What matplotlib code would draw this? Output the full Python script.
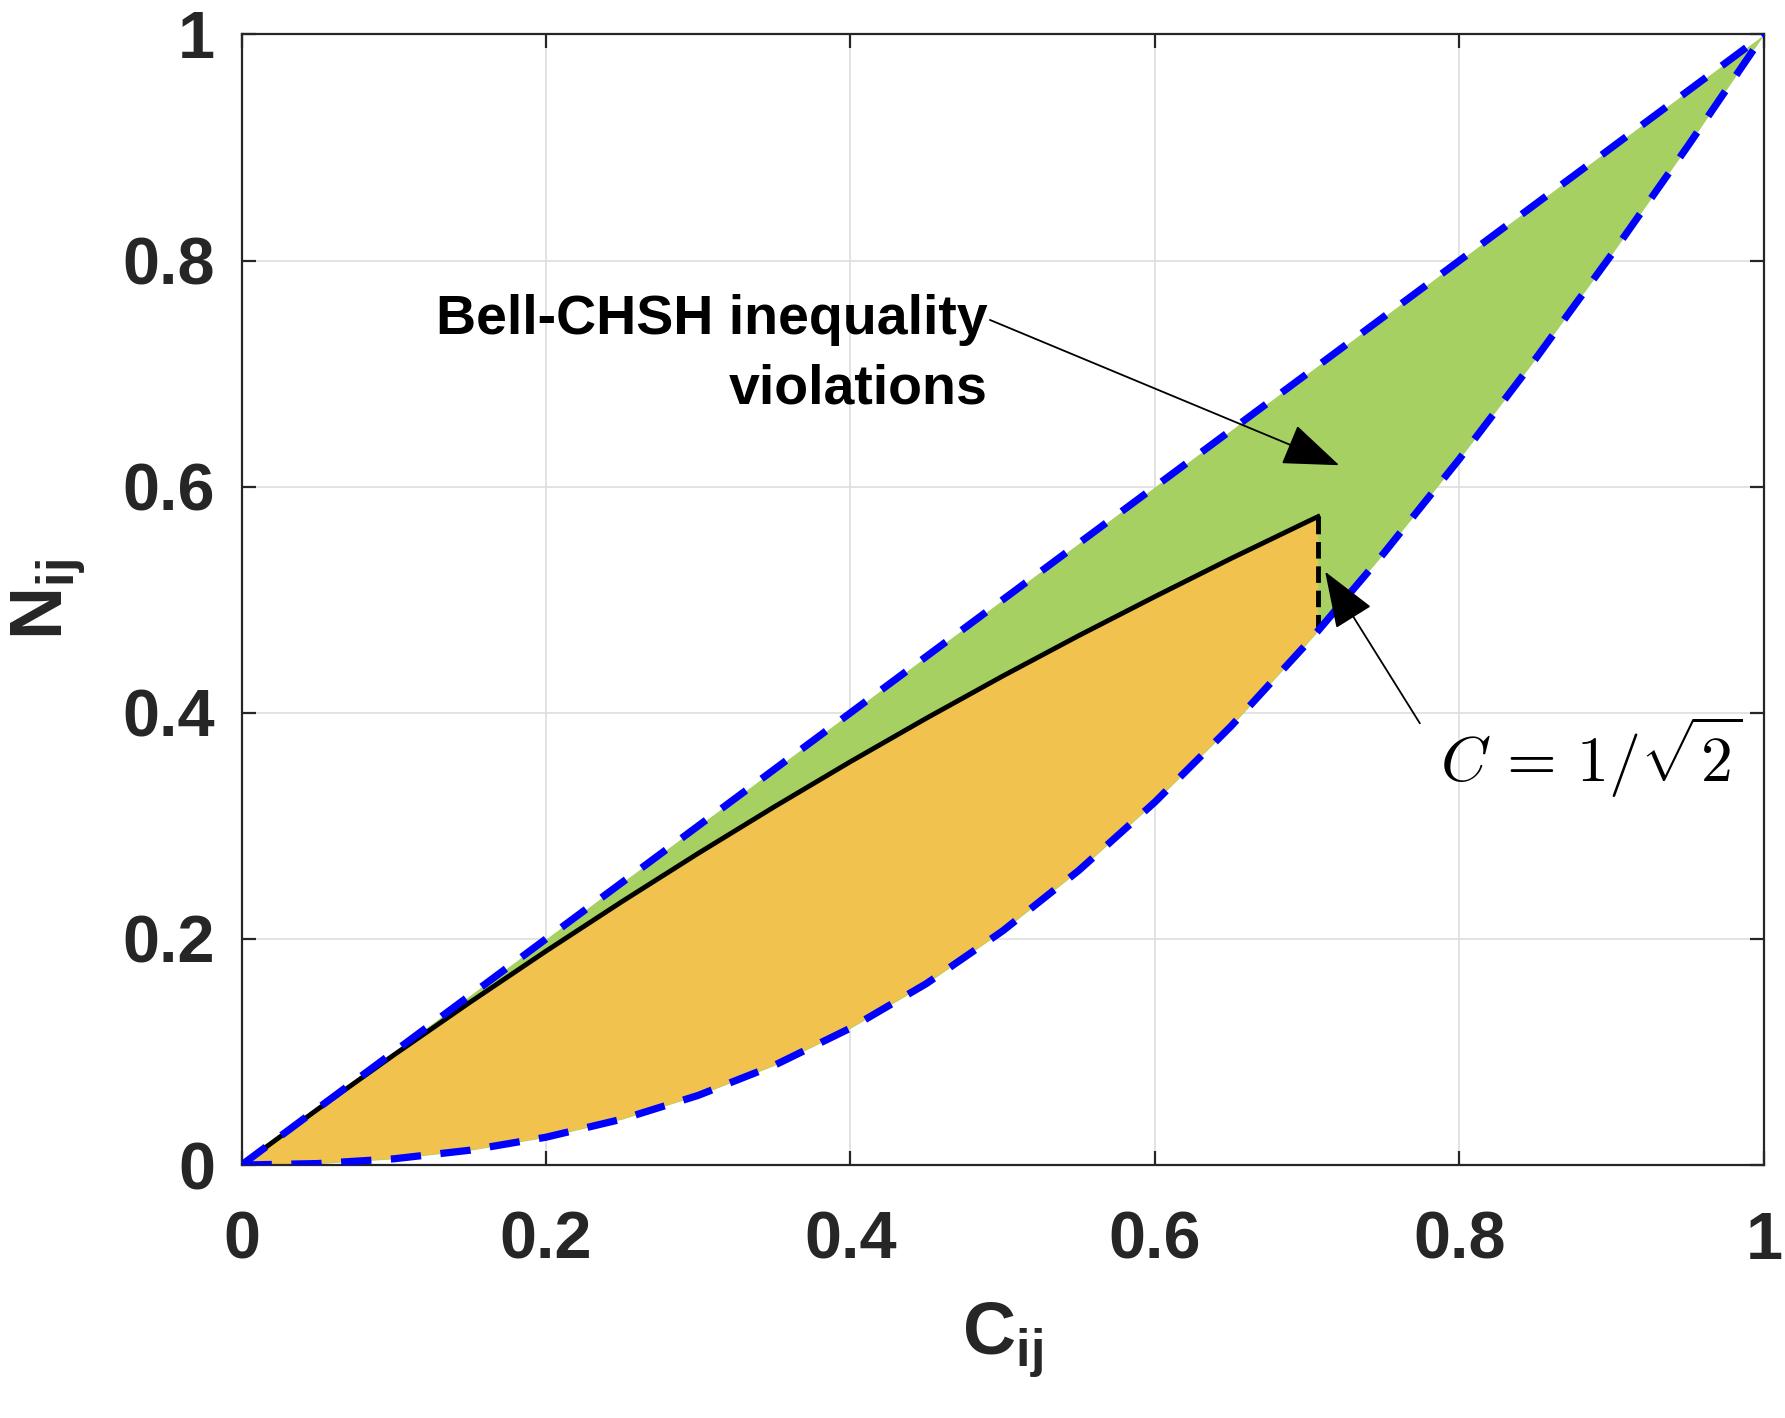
import numpy as np
import matplotlib
matplotlib.use("Agg")
import matplotlib.pyplot as plt

plt.rcParams['font.family'] = ['Liberation Sans', 'DejaVu Sans']
plt.rcParams['mathtext.fontset'] = 'custom'
plt.rcParams['mathtext.rm'] = 'Liberation Sans:bold'
plt.rcParams['mathtext.bf'] = 'Liberation Sans:bold'

# concurrence grid
c_vals = [0.0, 0.05, 0.1, 0.15, 0.2, 0.25, 0.3, 0.35, 0.4, 0.45, 0.5, 0.55, 0.6, 0.65, 0.7, 0.7071,
          0.75, 0.8, 0.85, 0.9, 0.95, 1.0]
# upper bound (blue dashed, top)
n_upper = [0.0, 0.05, 0.1, 0.15, 0.2, 0.25, 0.3, 0.35, 0.4, 0.45, 0.5, 0.55, 0.6, 0.65, 0.7, 0.7071,
           0.75, 0.8, 0.85, 0.9, 0.95, 1.0]
# lower bound (blue dashed, bottom)
n_lower = [0.0, 0.0013, 0.0055, 0.0131, 0.0246, 0.0406, 0.0616, 0.0882, 0.1211, 0.1606, 0.2071,
           0.2606, 0.3211, 0.3882, 0.4616, 0.4725, 0.5406, 0.6246, 0.7131, 0.8055, 0.9013, 1.0]
# black curve, stops at C = 1/sqrt(2)
c_black = [0.0, 0.05, 0.1, 0.15, 0.2, 0.25, 0.3, 0.35, 0.4, 0.45, 0.5, 0.55, 0.6, 0.65, 0.7, 0.7071]
n_black = [0.0, 0.0493, 0.0973, 0.1439, 0.1892, 0.2331, 0.2757, 0.3169, 0.3568, 0.3953, 0.4325,
           0.4683, 0.5028, 0.5365, 0.5690, 0.5735]
c_bell = 0.7071

ticks = [0, 0.2, 0.4, 0.6, 0.8, 1]
tick_labels = ['0', '0.2', '0.4', '0.6', '0.8', '1']

green = '#A7D063'
orange = '#F2C24E'
axcol = '#262626'

fig = plt.figure(figsize=(17.85, 14.18), dpi=100)
ax = fig.add_axes([0.1353, 0.1784, 0.8529, 0.7973])

c = np.array(c_vals)
lo = np.array(n_lower)
up = np.array(n_upper)
ax.fill_between(c, lo, up, color=green, lw=0, zorder=1)

# orange region: black curve out, lower bound back
k = c_vals.index(c_bell) + 1
ax.fill(np.r_[c_black, c[:k][::-1]], np.r_[n_black, lo[:k][::-1]], color=orange, lw=0, zorder=2)

ax.plot(c_black, n_black, color='black', lw=3.5, zorder=3, solid_joinstyle='round')
ax.plot([c_bell, c_bell], [n_lower[k - 1], n_black[-1]], color='black', lw=3.5,
        linestyle=(0, (3.4, 1.6)), zorder=3)
ax.plot(c, up, color='#0000FF', lw=5.2, linestyle=(0, (4.2, 2.7)), zorder=4)
ax.plot(c, lo, color='#0000FF', lw=5.2, linestyle=(0, (4.2, 2.7)), zorder=4)

ax.set_xlim(0, 1)
ax.set_ylim(0, 1)
ax.set_xticks(ticks)
ax.set_xticklabels(tick_labels)
ax.set_yticks(ticks)
ax.set_yticklabels(tick_labels)
ax.set_axisbelow(True)
ax.grid(True, color='#dedede', lw=1.2)
for s in ax.spines.values():
    s.set_color(axcol)
    s.set_linewidth(1.6)
ax.tick_params(direction='in', length=10, width=1.6, color=axcol, top=True, right=True,
               labelsize=48, labelcolor=axcol)
ax.tick_params(axis='x', pad=33)
ax.tick_params(axis='y', pad=19)
for lab in ax.get_xticklabels() + ax.get_yticklabels():
    lab.set_fontweight('bold')

ax.set_xlabel(r'$\mathrm{C}_{\mathrm{ij}}$', fontsize=53, color=axcol, labelpad=20)
ax.set_ylabel(r'$\mathrm{N}_{\mathrm{ij}}$', fontsize=53, color=axcol, labelpad=25)

ax.text(0.490, 0.7167, 'Bell-CHSH inequality\nviolations', fontsize=40, fontweight='bold',
        ha='right', va='center', multialignment='right', linespacing=1.45, color='black', zorder=6)
ax.annotate('', xy=(0.721, 0.619), xytext=(0.4916, 0.7475),
            arrowprops=dict(arrowstyle='-|>,head_length=1.2,head_width=0.45', color='black',
                            lw=1.3, mutation_scale=30, shrinkA=0, shrinkB=0), zorder=6)
ax.annotate('', xy=(0.7118, 0.5248), xytext=(0.774, 0.3907),
            arrowprops=dict(arrowstyle='-|>,head_length=1.2,head_width=0.45', color='black',
                            lw=1.3, mutation_scale=30, shrinkA=0, shrinkB=0), zorder=6)
ax.text(0.787, 0.361, r'$C\,=\,1/\sqrt{2}$', fontsize=46, math_fontfamily='cm',
        ha='left', va='center', color='black', zorder=6)

fig.savefig('out.png', dpi=100)
